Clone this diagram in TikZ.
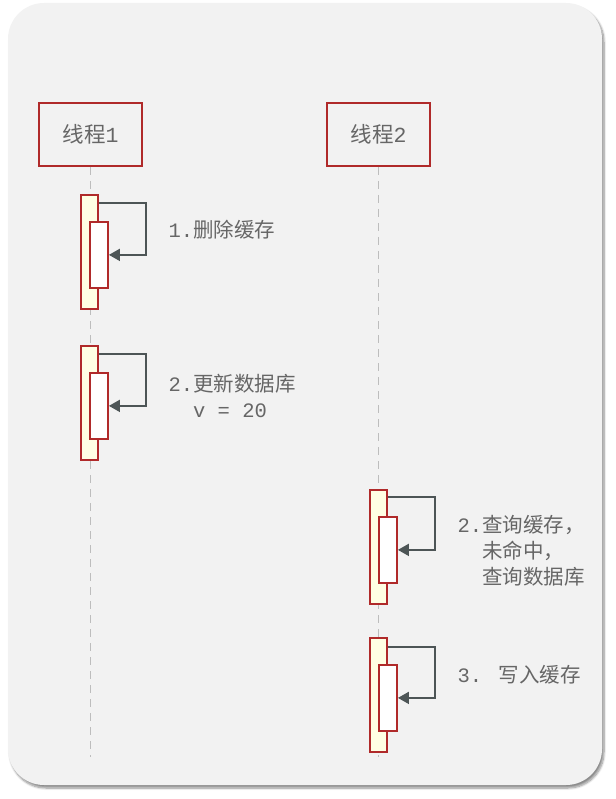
\documentclass[tikz,border=0pt]{standalone}
\usepackage{fontspec}
\setmainfont{Liberation Mono}
\newfontfamily\cjk{Noto Sans CJK SC}
\usetikzlibrary{arrows.meta, shadows.blur, positioning}

\definecolor{boxred}{HTML}{B02A2A}
\definecolor{actyellow}{HTML}{FFFFE3}
\definecolor{panelgray}{HTML}{F2F2F2}
\definecolor{txtgray}{HTML}{666666}
\definecolor{msggray}{HTML}{4D5556}
\definecolor{lifegray}{HTML}{BDBDBD}

\begin{document}
\begin{tikzpicture}[x=1pt, y=-1pt,
    every node/.style={anchor=center, font=\fontsize{20.5}{26}\selectfont, text=txtgray},
    thread/.style={draw=boxred, line width=2pt, minimum width=103pt, minimum height=63pt, inner sep=0pt, font=\fontsize{21.5}{26}\selectfont},
    actouter/.style={draw=boxred, fill=actyellow, line width=1.8pt, minimum width=17pt, minimum height=114pt, inner sep=0pt, anchor=north},
    actinner/.style={draw=boxred, fill=white, line width=1.8pt, minimum width=18pt, minimum height=66pt, inner sep=0pt, anchor=north west},
    lifeline/.style={draw=lifegray, line width=1.8pt, dash pattern=on 8pt off 6pt},
    msg/.style={draw=msggray, line width=1.8pt, -{Triangle[length=11pt, width=12pt]}},
    note/.style={align=left, anchor=west}]
    \useasboundingbox (0,0) rectangle (615,799);
    % Fons arrodonit amb ombra
    \fill[panelgray, rounded corners=36pt, blur shadow={shadow xshift=2pt, shadow yshift=-3pt, shadow blur steps=8, shadow opacity=45}]
        (8,3) rectangle (602,785);
    % Fils
    \node[thread] (t1) at (90.5,134.5) {{\cjk 线程}1};
    \node[thread] (t2) at (378.5,134.5) {{\cjk 线程}2};
    \coordinate (e1) at (90,757);
    \coordinate (e2) at (378,757);
    \draw[lifeline] (t1.south) -- (t1.south |- e1);
    \draw[lifeline] (t2.south) -- (t2.south |- e2);
    % Activacions del fil 1
    \node[actouter] (a1) at (89.5,194) {};
    \node[actinner] (a1i) at ([xshift=9pt, yshift=-27pt]a1.north west) {};
    \node[actouter] (a2) at (89.5,345) {};
    \node[actinner] (a2i) at ([xshift=9pt, yshift=-27pt]a2.north west) {};
    % Activacions del fil 2
    \node[actouter] (a3) at (378.5,489) {};
    \node[actinner] (a3i) at ([xshift=9pt, yshift=-27pt]a3.north west) {};
    \node[actouter] (a4) at (378.5,637) {};
    \node[actinner] (a4i) at ([xshift=9pt, yshift=-27pt]a4.north west) {};
    % Missatges a si mateix
    \draw[msg] ([yshift=-9pt]a1.north east) -- ++(47,0) |- (a1i.east);
    \draw[msg] ([yshift=-9pt]a2.north east) -- ++(47,0) |- (a2i.east);
    \draw[msg] ([yshift=-8pt]a3.north east) -- ++(47,0) |- (a3i.east);
    \draw[msg] ([yshift=-10pt]a4.north east) -- ++(47,0) |- (a4i.east);
    % Etiquetes
    \node[note] (n1) at (165,230) {1.{\cjk 删除缓存}};
    \node[note] (n2) at (165,396) {2.{\cjk 更新数据库}\\\hphantom{2.}v = 20};
    \node[note] (n3) at (454,551) {2.{\cjk 查询缓存，}\\\hphantom{2.}{\cjk 未命中，}\\\hphantom{2.}{\cjk 查询数据库}};
    \node[note] (n4) at (454,675) {3. {\cjk 写入缓存}};
\end{tikzpicture}
\end{document}
